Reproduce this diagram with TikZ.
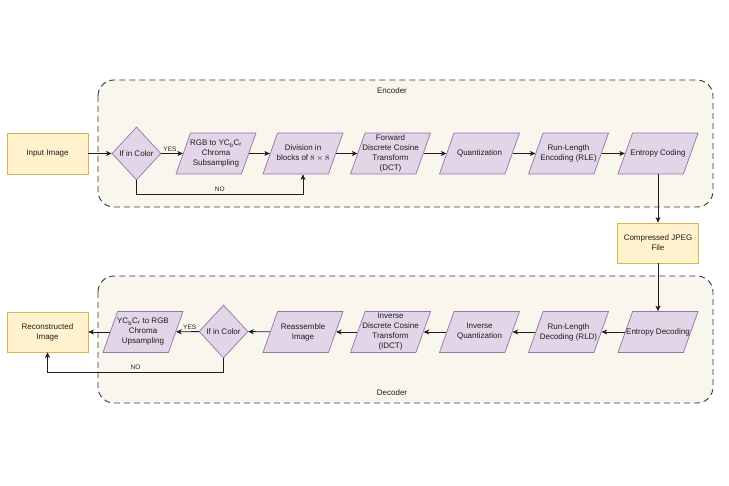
\documentclass[tikz,border=0pt]{standalone}
\usepackage{fontspec}
\setmainfont{Liberation Sans}
\usetikzlibrary{shapes.geometric,arrows.meta}
\definecolor{pfill}{HTML}{E1D5E7}
\definecolor{pdraw}{HTML}{9673A6}
\definecolor{yfill}{HTML}{FFF2CC}
\definecolor{ydraw}{HTML}{D6B656}
\definecolor{cfill}{HTML}{F9F7ED}
\definecolor{cdraw}{HTML}{36393D}
\definecolor{ink}{HTML}{1E1E1E}
\tikzset{
  lbl/.style={font=\fontsize{8}{10}\selectfont, align=center, text=ink},
  small/.style={font=\fontsize{6.5}{7.5}\selectfont, text=ink, inner sep=1.5pt},
  parabox/.style={trapezium, trapezium left angle=74, trapezium right angle=106,
    trapezium stretches=true, minimum width=80pt, minimum height=41pt, inner sep=1pt,
    draw=pdraw, fill=pfill, line width=0.7pt, label={[lbl]center:{#1}}},
  decision/.style={diamond, minimum width=49pt, minimum height=53pt, inner sep=0pt,
    draw=pdraw, fill=pfill, line width=0.7pt, label={[lbl]center:{#1}}},
  term/.style={rectangle, minimum width=81pt, minimum height=41pt, inner sep=1pt,
    draw=ydraw, fill=yfill, line width=0.7pt, lbl},
  container/.style={draw=cdraw, fill=cfill, line width=0.9pt, rounded corners=16pt,
    dash pattern=on 6pt off 4pt},
  arr/.style={draw=ink, line width=0.9pt, -{Stealth[length=5.5pt,width=5pt,inset=1.5pt]}},
}
\begin{document}
\begin{tikzpicture}[x=1pt,y=-1pt]
\useasboundingbox[fill=white] (0,0) rectangle (729,486);
% containers
\draw[container] (98,80) rectangle (713,207);
\draw[container] (98,276) rectangle (713,403);
\node[lbl] (enclbl) at (392,91) {Encoder};
\node[lbl] (declbl) at (392,393) {Decoder};
% encoder row
\node[term] (inimg) at (47.5,153.5) {Input Image};
\node[decision={If in Color}] (dia1) at (136.5,153.5) {};
\node[parabox={RGB to YC\textsubscript{b}C\textsubscript{r}\\Chroma\\Subsampling}] (rgb) at (216,153.5) {};
\node[parabox={Division in\\blocks of $8\times8$}] (div) at (303,153.5) {};
\node[parabox={Forward\\Discrete Cosine\\Transform\\(DCT)}] (fdct) at (390.5,153.5) {};
\node[parabox={Quantization}] (quant) at (479.5,153.5) {};
\node[parabox={Run-Length\\Encoding (RLE)}] (rle) at (568.5,153.5) {};
\node[parabox={Entropy Coding}] (enc) at (658,153.5) {};
% file
\node[term, minimum height=40pt] (jpeg) at (658,243) {Compressed JPEG\\File};
% decoder row
\node[parabox={Entropy Decoding}] (entdec) at (658,332) {};
\node[parabox={Run-Length\\Decoding (RLD)}] (rld) at (568.5,332) {};
\node[parabox={Inverse\\Quantization}] (iquant) at (479.5,332) {};
\node[parabox={Inverse\\Discrete Cosine\\Transform\\(IDCT)}] (idct) at (390.5,332) {};
\node[parabox={Reassemble\\Image}] (reass) at (303,332) {};
\node[decision={If in Color}] (dia2) at (223.5,331.5) {};
\node[parabox={YC\textsubscript{b}C\textsubscript{r} to RGB\\Chroma\\Upsampling}] (ycc) at (143,332) {};
\node[term, minimum height=40pt] (recon) at (47.5,332) {Reconstructed\\Image};
% connectors encoder
\draw[arr] (inimg) -- (dia1);
\draw[arr] (dia1) -- node[small, above, pos=0.4] {YES} (rgb);
\draw[arr] (dia1.south) -- (136.5,194) -| node[small, above, pos=0.25] {NO} (div.south);
\draw[arr] (rgb) -- (div);
\draw[arr] (div) -- (fdct);
\draw[arr] (fdct) -- (quant);
\draw[arr] (quant) -- (rle);
\draw[arr] (rle) -- (enc);
\draw[arr] (enc.south) -- (jpeg.north);
\draw[arr] (jpeg.south) -- (entdec.north);
% connectors decoder
\draw[arr] (entdec) -- (rld);
\draw[arr] (rld) -- (iquant);
\draw[arr] (iquant) -- (idct);
\draw[arr] (idct) -- (reass);
\draw[arr] (reass) -- (dia2);
\draw[arr] (dia2) -- node[small, above, pos=0.4] {YES} (ycc);
\draw[arr] (dia2.south) -- (223.5,372) -| node[small, above, pos=0.25] {NO} (recon.south);
\draw[arr] (ycc) -- (recon);
\end{tikzpicture}
\end{document}
